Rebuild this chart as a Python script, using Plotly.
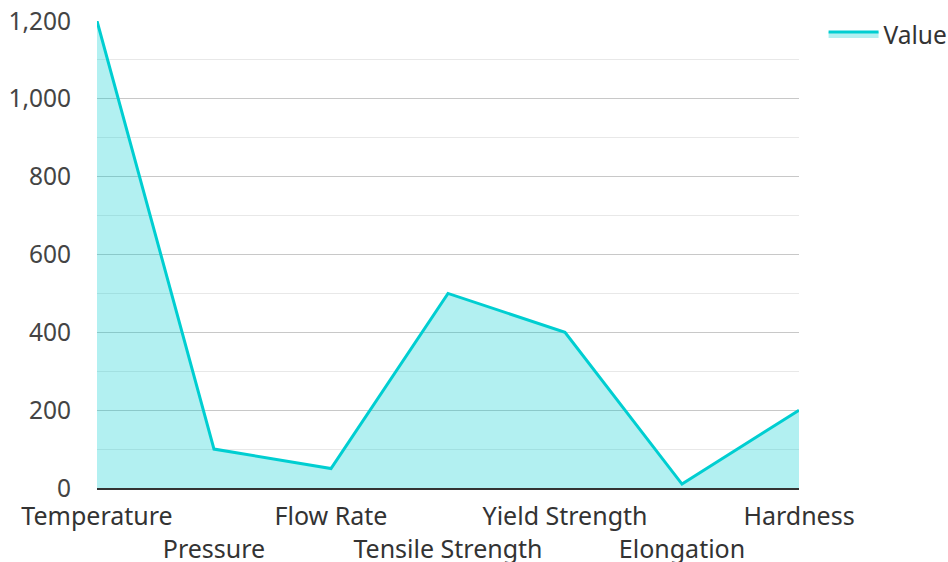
import plotly.graph_objects as go

categories = ["Temperature", "Pressure", "Flow Rate", "Tensile Strength", "Yield Strength", "Elongation", "Hardness"]
values = [1200, 100, 50, 500, 400, 10, 200]
series_name = "Value"
y_ticks = [0, 200, 400, 600, 800, 1000, 1200]

tick_text = [c if i % 2 == 0 else "<br>" + c for i, c in enumerate(categories)]

fig = go.Figure()
fig.add_trace(go.Scatter(
    x=list(range(len(categories))), y=values, name=series_name,
    mode="lines", fill="tozeroy",
    line=dict(color="#00CED1", width=3),
    fillcolor="rgba(0,206,209,0.3)",
))

font_family = "Noto Sans, Open Sans, sans-serif"
fs = 24.5
fig.update_layout(
    width=948, height=562,
    margin=dict(l=97, r=149, t=21, b=74, autoexpand=False),
    paper_bgcolor="white", plot_bgcolor="white",
    font=dict(family=font_family, size=fs, color="#333333"),
    showlegend=True,
    legend=dict(x=1.035, y=1.02, xanchor="left", yanchor="top", itemwidth=50,
                font=dict(size=fs, color="#333333"), bgcolor="rgba(0,0,0,0)"),
    xaxis=dict(
        range=[0, len(categories) - 1],
        tickmode="array", tickvals=list(range(len(categories))), ticktext=tick_text,
        tickangle=0, automargin=False,
        showgrid=False, zeroline=False,
        showline=True, linecolor="#333333", linewidth=2,
        ticks="", ticklabelstandoff=5,
        tickfont=dict(size=25, color="#333333"),
    ),
    yaxis=dict(
        range=[0, 1200], automargin=False,
        tickmode="array", tickvals=y_ticks, tickformat=",",
        showgrid=True, gridcolor="#c8c8c8", gridwidth=1,
        minor=dict(dtick=100, showgrid=True, gridcolor="#e8e8e8", gridwidth=1),
        zeroline=False, showline=False, ticks="",
        ticklabelstandoff=25,
        tickfont=dict(size=fs, color="#444444"),
    ),
)
fig.write_html("out.html", config={"displayModeBar": False},
               post_script="document.body.style.margin='0';document.body.style.overflow='hidden';")
